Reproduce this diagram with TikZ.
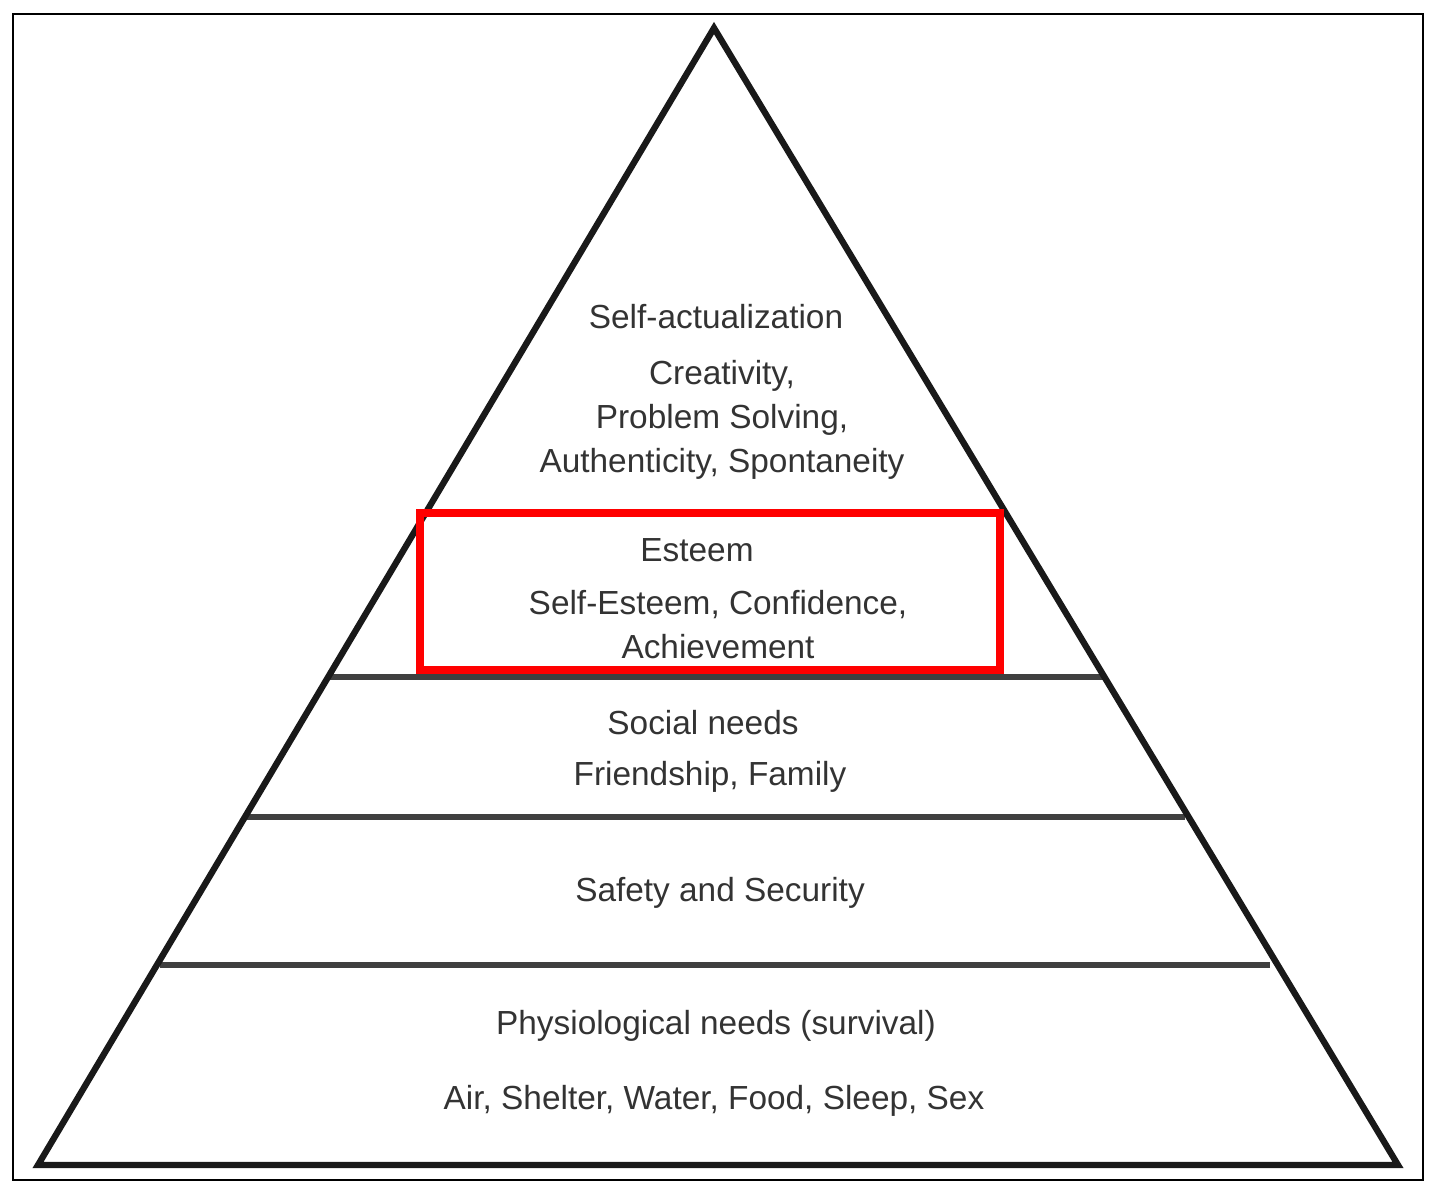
\documentclass[tikz,border=0pt]{standalone}
\usepackage{fontspec}
\setmainfont{Liberation Sans}
\begin{document}
\begin{tikzpicture}[x=0.02cm,y=-0.02cm,
  lbl/.style={font=\fontsize{19}{25}\selectfont,align=center,text=black!80},
  tier/.style={line width=3pt,draw=black!75},
  edge/.style={line width=3.6pt,draw=black!90,line join=miter}]
\useasboundingbox (0,0) rectangle (1433,1187);
\draw[line width=1.5pt] (13,14) rectangle (1423,1180);
\coordinate (apex) at (714,28);
\coordinate (bl) at (38,1165);
\coordinate (br) at (1398,1165);
\draw[tier] (328,677) -- (1103,677);
\draw[tier] (245,817) -- (1185,817);
\draw[tier] (160,965) -- (1270,965);
\draw[edge] (bl) -- (apex) -- (br) -- cycle;
\draw[red,line width=4pt] (420,513) rectangle (1000,670);
\node[lbl] (t1) at (716,317) {Self-actualization};
\node[lbl] (t1b) at (722,420) {Creativity,\\Problem Solving,\\Authenticity, Spontaneity};
\node[lbl] (t2) at (697,550) {Esteem};
\node[lbl] (t2b) at (718,625) {Self-Esteem, Confidence,\\Achievement};
\node[lbl] (t3) at (703,723) {Social needs};
\node[lbl] (t3b) at (710,777) {Friendship, Family};
\node[lbl] (t4) at (720,893) {Safety and Security};
\node[lbl] (t5) at (716,1026) {Physiological needs (survival)};
\node[lbl] (t5b) at (714,1101) {Air, Shelter, Water, Food, Sleep, Sex};
\end{tikzpicture}
\end{document}
